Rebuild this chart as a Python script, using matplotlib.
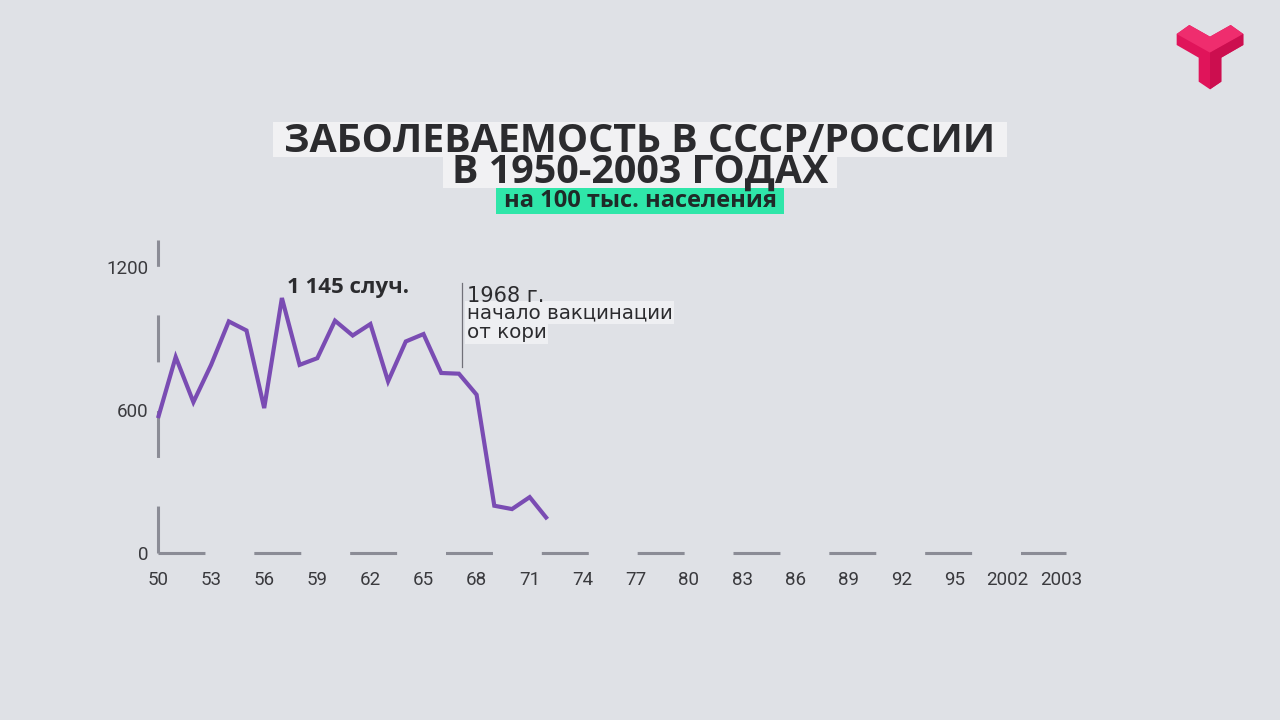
import numpy as np
import matplotlib
matplotlib.use("Agg")
import matplotlib.pyplot as plt
from matplotlib.patches import Polygon, Rectangle
from matplotlib.lines import Line2D

plt.rcParams['font.family'] = ['Open Sans', 'DejaVu Sans']
plt.rcParams['lines.scale_dashes'] = False

# ---- data ----
years = list(range(1950, 1973))
incidence = [565, 821, 632, 788, 970, 932, 607, 1068, 788, 816, 973, 911, 959,
             719, 886, 917, 754, 751, 663, 198, 184, 234, 142]
tick_labels = ['50', '53', '56', '59', '62', '65', '68', '71', '74', '77', '80',
               '83', '86', '89', '92', '95', '2002', '2003']
y_ticks = [0, 600, 1200]
title_line1 = 'ЗАБОЛЕВАЕМОСТЬ В СССР/РОССИИ'
title_line2 = 'В 1950-2003 ГОДАХ'
subtitle = 'на 100 тыс. населения'
peak_label = '1 145 случ.'
event_year_label = '1968 г.'
event_text = ['начало вакцинации', 'от кори']

BG = '#dfe1e6'
LINE = '#7a4cb3'
AXIS = '#8b8c96'
TXT = '#2b2b2e'
TICK_FONT = ['Roboto', 'DejaVu Sans']
ANN_FONT = ['DejaVu Sans']

W, H = 1280, 720
fig = plt.figure(figsize=(W / 100, H / 100), dpi=100, facecolor=BG)

def fx(px):
    return px / W

def fy(py):
    return 1 - py / H

ax = fig.add_axes([fx(158), fy(553), fx(1066) - fx(158), fy(240) - fy(553)])
ax.set_facecolor('none')
for s in ax.spines.values():
    s.set_visible(False)

x_pos = np.array(years) - years[0]
ax.plot(x_pos, incidence, color=LINE, lw=3.0, solid_joinstyle='miter',
        solid_capstyle='butt', zorder=5, clip_on=False)

ax.set_xlim(0, 51.3)
ax.set_ylim(0, 1311)

tick_pos = np.arange(len(tick_labels)) * 3
ax.set_xticks(tick_pos)
ax.set_xticklabels(tick_labels, fontsize=13.5, color='#3a3a3e', family=TICK_FONT)
ax.set_yticks(y_ticks)
ax.set_yticklabels([str(v) for v in y_ticks], fontsize=13.5, color='#3a3a3e', family=TICK_FONT)
ax.tick_params(axis='both', length=0)
ax.tick_params(axis='x', pad=13)
ax.tick_params(axis='y', pad=7)

# dashed axis lines
ax.add_line(Line2D([0, 1], [0, 0], transform=ax.transAxes, color=AXIS, lw=2.2,
                   linestyle=(0, (33.8, 35.2)), clip_on=False, zorder=3))
ax.add_line(Line2D([0, 0], [0, 1], transform=ax.transAxes, color=AXIS, lw=2.2,
                   linestyle=(0, (33.8, 35.0)), clip_on=False, zorder=3))

# annotations
ax.text(7.3, 1110, peak_label, fontsize=16, fontweight='bold', color=TXT,
        va='center', ha='left')
ax.plot([17.2, 17.2], [780, 1130], color='#707078', lw=0.9, zorder=4)
ax.text(17.45, 1053, event_year_label, fontsize=15, color=TXT, va='baseline', ha='left',
        zorder=7, family=ANN_FONT)
ax.text(17.45, 1007, event_text[0], fontsize=14.3, color=TXT, va='center', ha='left',
        bbox=dict(boxstyle='square,pad=0.08', fc='#eeeff2', ec='none'), zorder=6,
        family=ANN_FONT)
ax.text(17.45, 922, event_text[1], fontsize=14.3, color=TXT, va='center', ha='left',
        bbox=dict(boxstyle='square,pad=0.08', fc='#eeeff2', ec='none'), zorder=6,
        family=ANN_FONT)

# titles
t1 = fig.text(0.5, fy(141), title_line1, fontsize=28.4, fontweight='bold', color=TXT,
              ha='center', va='center', zorder=3)
t2 = fig.text(0.5, fy(172), title_line2, fontsize=28.4, fontweight='bold', color=TXT,
              ha='center', va='center', zorder=3)
t3 = fig.text(0.5, fy(201), subtitle, fontsize=17, fontweight='bold', color='#1f2a28',
              ha='center', va='center', zorder=3)

fig.canvas.draw()
r = fig.canvas.get_renderer()
for t, (ytop, ybot), pad, col in [(t1, (122, 157), 11, '#f1f1f3'),
                                  (t2, (157, 188), 9, '#f1f1f3'),
                                  (t3, (188, 214), 8, '#2fe6a9')]:
    bb = t.get_window_extent(r)
    x0 = bb.x0 - pad
    x1 = bb.x1 + pad
    fig.patches.append(Rectangle((x0 / W, fy(ybot)), (x1 - x0) / W, (ybot - ytop) / H,
                                 fc=col, ec='none', transform=fig.transFigure,
                                 figure=fig, zorder=1))

# logo
def zp(pts):
    return [(fx(1160 + x / 3), fy(10 + y / 3)) for x, y in pts]

outline = [(50, 72), (88, 45), (150, 80), (212, 45), (250, 72), (250, 105),
           (184, 143), (184, 215), (150, 238), (116, 215), (116, 143), (50, 105)]
top = [(50, 72), (88, 45), (150, 80), (212, 45), (250, 72), (150, 128)]
fig.patches.append(Polygon(zp(outline), closed=True, fc='#e0145a', ec='none',
                           transform=fig.transFigure, figure=fig))
fig.patches.append(Polygon(zp(top), closed=True, fc='#ef2d6e', ec='none',
                           transform=fig.transFigure, figure=fig))
fig.patches.append(Polygon(zp([(150, 128), (250, 72), (250, 105), (184, 143),
                                (184, 215), (150, 238)]), closed=True, fc='#cc0e4f',
                           ec='none', transform=fig.transFigure, figure=fig))

fig.savefig('out.png', dpi=100, facecolor=BG)
